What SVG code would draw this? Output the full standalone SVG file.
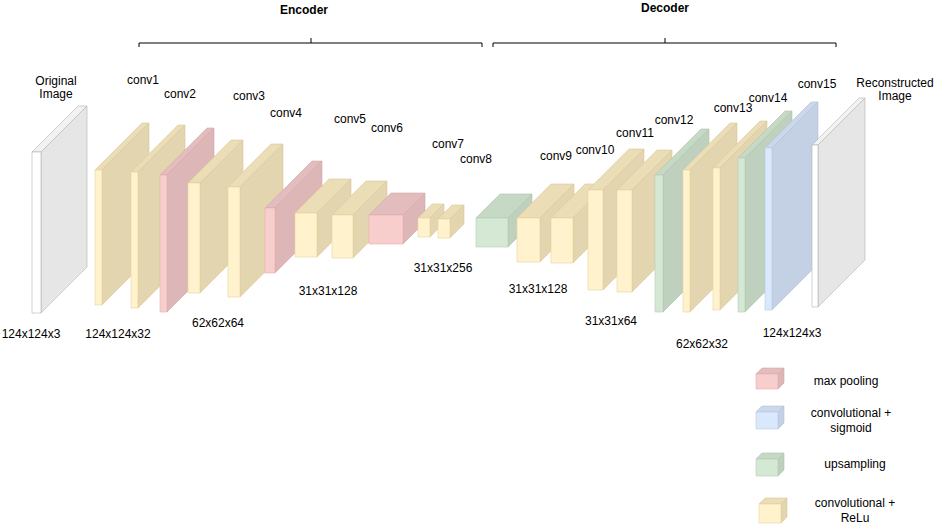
<svg xmlns="http://www.w3.org/2000/svg" width="936" height="524" viewBox="0 0 936 524">
<style>
text{font-family:"Liberation Sans",Arial,sans-serif;font-size:12px;fill:#000;text-anchor:middle}
.b{font-weight:bold}
polygon,rect{stroke-width:0.6;stroke-linejoin:round}
.yf{fill:#FFF2CC;stroke:#E6D3A0}.yt{fill:#EBDDB6;stroke:#D9C89A}.ys{fill:#E3D5AF;stroke:#D9C89A}
.pf{fill:#F8CECC;stroke:#E5AFAD}.pt{fill:#E3BDBD;stroke:#D3A8A8}.ps{fill:#DDB6B7;stroke:#D3A8A8}
.gf{fill:#D5E8D4;stroke:#B7CFB5}.gt{fill:#C6D9C5;stroke:#AFC4AD}.gs{fill:#BFD1BE;stroke:#AFC4AD}
.lf{fill:#DAE8FC;stroke:#B9CBE6}.lt{fill:#CBD7EA;stroke:#B2C0D8}.ls{fill:#C4D1E4;stroke:#B2C0D8}
.wf{fill:#FFFFFF;stroke:#B3B3B3}.wt{fill:#F2F2F2;stroke:#B3B3B3}.ws{fill:#E6E6E6;stroke:#B3B3B3}
.br{fill:none;stroke:#000;stroke-width:1}
</style>
<g id="connectors">
<path class="br" d="M139,47 V43 H482 V47 M311,43 V38"/>
<path class="br" d="M493,47 V43 H836 V47 M665,43 V38"/>
</g>
<text class="b" x="304" y="14">Encoder</text>
<text class="b" x="665" y="12">Decoder</text>

<g id="original">
<polygon class="wt" points="32,152 41,152 87,106 78,106"/>
<polygon class="ws" points="41,152 87,106 87,267 41,313"/>
<rect class="wf" x="32" y="152" width="9" height="161"/>
<text x="56" y="85">Original</text><text x="56" y="98">Image</text>
<text x="31" y="338">124x124x3</text>
</g>
<g id="conv1">
<polygon class="yt" points="95,170 102,170 149,123 142,123"/>
<polygon class="ys" points="102,170 149,123 149,258 102,305"/>
<rect class="yf" x="95" y="170" width="7" height="135"/>
<text x="143" y="84">conv1</text>
</g>
<g id="conv2">
<polygon class="yt" points="131,172 138,172 185,125 178,125"/>
<polygon class="ys" points="138,172 185,125 185,261 138,308"/>
<rect class="yf" x="131" y="172" width="7" height="136"/>
<text x="180" y="98">conv2</text>
<text x="118" y="338">124x124x32</text>
</g>
<g id="pool1">
<polygon class="pt" points="160,175 167,175 214,128 207,128"/>
<polygon class="ps" points="167,175 214,128 214,265 167,312"/>
<rect class="pf" x="160" y="175" width="7" height="137"/>
</g>
<g id="conv3">
<polygon class="yt" points="188,183 200,183 243,140 231,140"/>
<polygon class="ys" points="200,183 243,140 243,250 200,293"/>
<rect class="yf" x="188" y="183" width="12" height="110"/>
<text x="249" y="100">conv3</text>
<text x="218" y="327">62x62x64</text>
</g>
<g id="conv4">
<polygon class="yt" points="228,187 240,187 283,144 271,144"/>
<polygon class="ys" points="240,187 283,144 283,254 240,297"/>
<rect class="yf" x="228" y="187" width="12" height="110"/>
<text x="286" y="117">conv4</text>
</g>
<g id="pool2">
<polygon class="pt" points="265,208 275,208 322,161 312,161"/>
<polygon class="ps" points="275,208 322,161 322,226 275,273"/>
<rect class="pf" x="265" y="208" width="10" height="65"/>
</g>
<g id="conv5">
<polygon class="yt" points="295,213 317,213 351,179 329,179"/>
<polygon class="ys" points="317,213 351,179 351,223 317,257"/>
<rect class="yf" x="295" y="213" width="22" height="44"/>
<text x="350" y="123">conv5</text>
<text x="328" y="295">31x31x128</text>
</g>
<g id="conv6">
<polygon class="yt" points="332,215 353,215 387,181 366,181"/>
<polygon class="ys" points="353,215 387,181 387,224 353,258"/>
<rect class="yf" x="332" y="215" width="21" height="43"/>
<text x="387" y="132">conv6</text>
</g>
<g id="pool3">
<polygon class="pt" points="369,215 403,215 425,193 391,193"/>
<polygon class="ps" points="403,215 425,193 425,222 403,244"/>
<rect class="pf" x="369" y="215" width="34" height="29"/>
</g>
<g id="conv7">
<polygon class="yt" points="418,218 430,218 444,204 432,204"/>
<polygon class="ys" points="430,218 444,204 444,223 430,237"/>
<rect class="yf" x="418" y="218" width="12" height="19"/>
<text x="448" y="148">conv7</text>
<text x="443" y="272">31x31x256</text>
</g>
<g id="conv8">
<polygon class="yt" points="438,219 450,219 464,205 452,205"/>
<polygon class="ys" points="450,219 464,205 464,224 450,238"/>
<rect class="yf" x="438" y="219" width="12" height="19"/>
<text x="476" y="163">conv8</text>
</g>
<g id="up1">
<polygon class="gt" points="476,218 508,218 532,194 500,194"/>
<polygon class="gs" points="508,218 532,194 532,223 508,247"/>
<rect class="gf" x="476" y="218" width="32" height="29"/>
</g>
<g id="conv9">
<polygon class="yt" points="517,218 540,218 574,184 551,184"/>
<polygon class="ys" points="540,218 574,184 574,228 540,262"/>
<rect class="yf" x="517" y="218" width="23" height="44"/>
<text x="556" y="160">conv9</text>
<text x="538" y="293">31x31x128</text>
</g>
<g id="conv10">
<polygon class="yt" points="551,218 573,218 607,184 585,184"/>
<polygon class="ys" points="573,218 607,184 607,229 573,263"/>
<rect class="yf" x="551" y="218" width="22" height="45"/>
<text x="595" y="154">conv10</text>
</g>
<g id="conv11">
<polygon class="yt" points="588,190 603,190 644,149 629,149"/>
<polygon class="ys" points="603,190 644,149 644,249 603,290"/>
<rect class="yf" x="588" y="190" width="15" height="100"/>
<text x="635" y="137">conv11</text>
<text x="611" y="325">31x31x64</text>
</g>
<g id="conv12">
<polygon class="yt" points="617,190 632,190 672,150 657,150"/>
<polygon class="ys" points="632,190 672,150 672,252 632,292"/>
<rect class="yf" x="617" y="190" width="15" height="102"/>
<text x="674" y="124">conv12</text>
</g>
<g id="up2">
<polygon class="gt" points="655,175 663,175 709,129 701,129"/>
<polygon class="gs" points="663,175 709,129 709,266 663,312"/>
<rect class="gf" x="655" y="175" width="8" height="137"/>
</g>
<g id="conv13">
<polygon class="yt" points="683,170 690,170 737,123 730,123"/>
<polygon class="ys" points="690,170 737,123 737,265 690,312"/>
<rect class="yf" x="683" y="170" width="7" height="142"/>
<text x="733" y="112">conv13</text>
<text x="702" y="348">62x62x32</text>
</g>
<g id="conv14">
<polygon class="yt" points="713,168 720,168 767,121 760,121"/>
<polygon class="ys" points="720,168 767,121 767,263 720,310"/>
<rect class="yf" x="713" y="168" width="7" height="142"/>
<text x="768" y="102">conv14</text>
</g>
<g id="up3">
<polygon class="gt" points="738,158 745,158 792,111 785,111"/>
<polygon class="gs" points="745,158 792,111 792,265 745,312"/>
<rect class="gf" x="738" y="158" width="7" height="154"/>
</g>
<g id="conv15">
<polygon class="lt" points="765,148 772,148 818,102 811,102"/>
<polygon class="ls" points="772,148 818,102 818,264 772,310"/>
<rect class="lf" x="765" y="148" width="7" height="162"/>
<text x="817" y="88">conv15</text>
<text x="792" y="337">124x124x3</text>
</g>
<g id="reconstructed">
<polygon class="wt" points="812,145 818,145 865,98 859,98"/>
<polygon class="ws" points="818,145 865,98 865,260 818,307"/>
<rect class="wf" x="812" y="145" width="6" height="162"/>
<text x="895" y="87">Reconstructed</text><text x="895" y="100">Image</text>
</g>

<g id="legend-maxpool">
<polygon class="pt" points="756,374 778,374 784,368 762,368"/>
<polygon class="ps" points="778,374 784,368 784,383 778,389"/>
<rect class="pf" x="756" y="374" width="22" height="15"/>
<text x="846" y="385">max pooling</text>
</g>
<g id="legend-sigmoid">
<polygon class="lt" points="756,412 778,412 784,406 762,406"/>
<polygon class="ls" points="778,412 784,406 784,423 778,429"/>
<rect class="lf" x="756" y="412" width="22" height="17"/>
<text x="851" y="417">convolutional +</text><text x="851" y="432">sigmoid</text>
</g>
<g id="legend-upsampling">
<polygon class="gt" points="756,459 778,459 784,453 762,453"/>
<polygon class="gs" points="778,459 784,453 784,470 778,476"/>
<rect class="gf" x="756" y="459" width="22" height="17"/>
<text x="855" y="468">upsampling</text>
</g>
<g id="legend-relu">
<polygon class="yt" points="759,504 781,504 787,498 765,498"/>
<polygon class="ys" points="781,504 787,498 787,517 781,523"/>
<rect class="yf" x="759" y="504" width="22" height="19"/>
<text x="855" y="507">convolutional +</text><text x="855" y="522">ReLu</text>
</g>
</svg>
